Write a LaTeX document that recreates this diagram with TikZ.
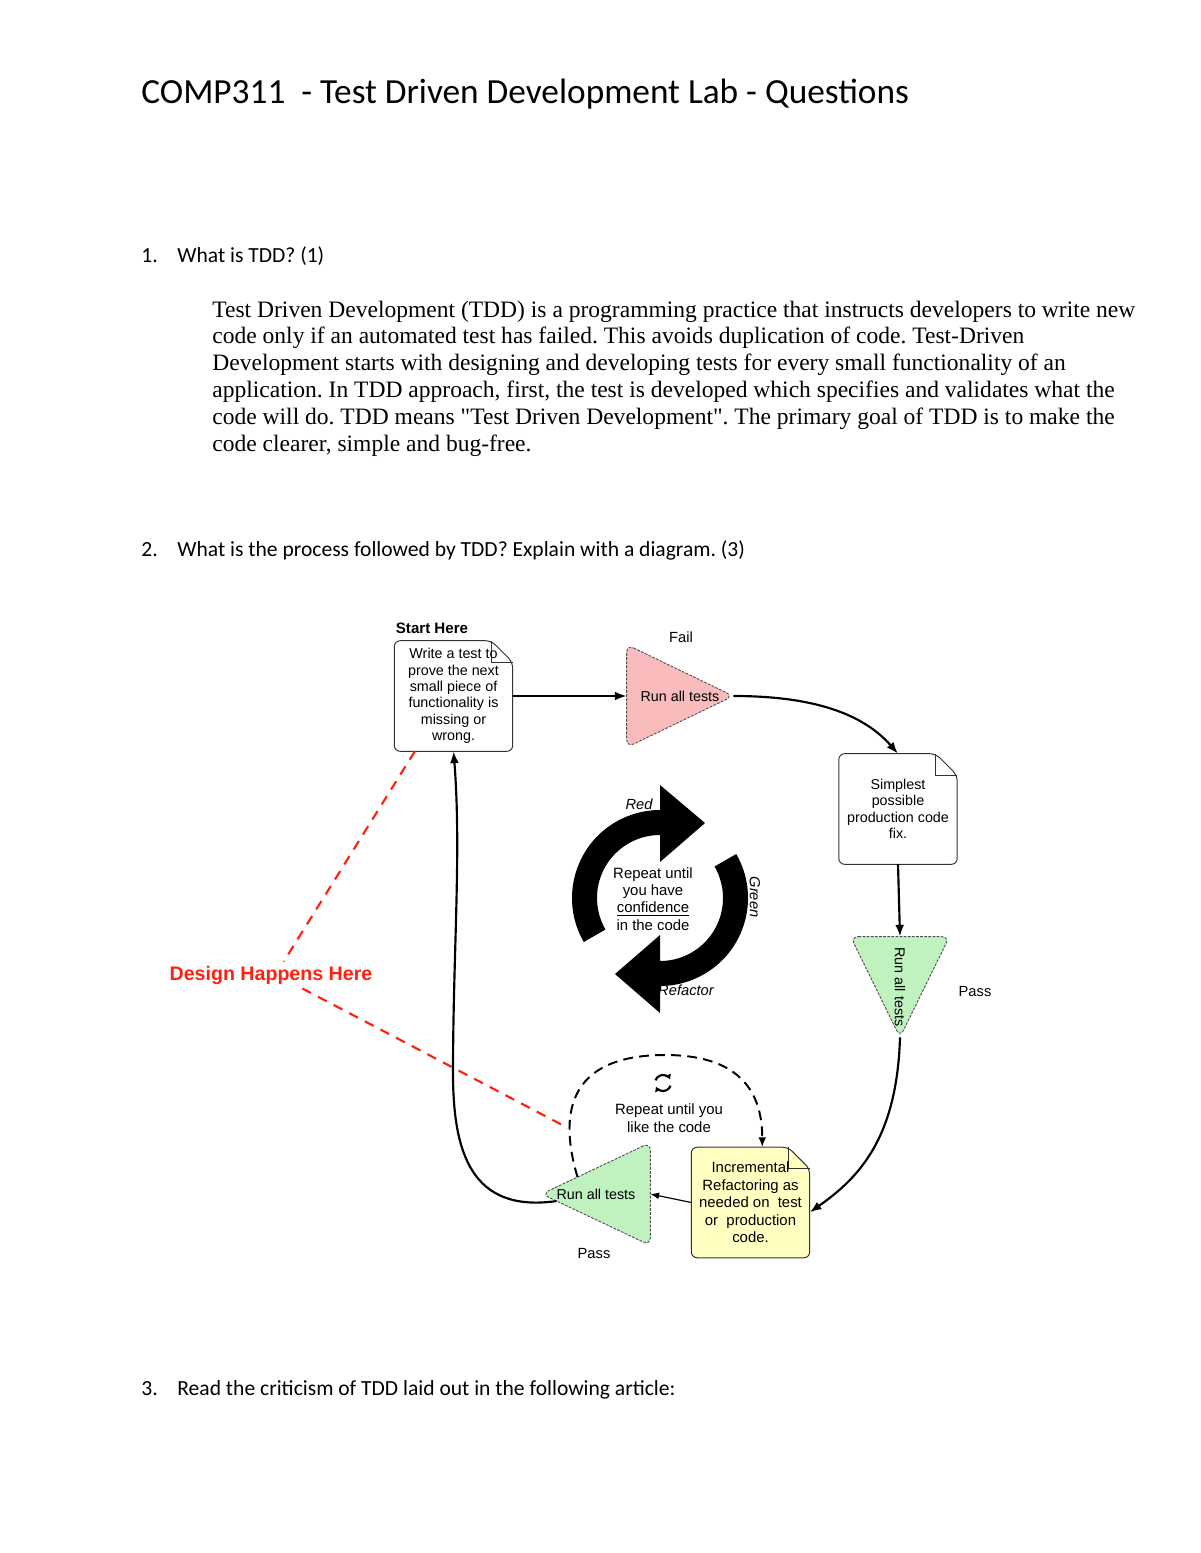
\documentclass[tikz,border=0pt]{standalone}
\usepackage{fontspec}
\setmainfont{Liberation Serif}
\newfontfamily\calibri{Carlito}
\newfontfamily\helv{Liberation Sans}
\usetikzlibrary{arrows.meta,backgrounds,calc}
\definecolor{failpink}{HTML}{F9BBBB}
\definecolor{passgreen}{HTML}{C0F2C0}
\definecolor{refacyellow}{HTML}{FFFFC2}
\definecolor{designred}{HTML}{FF2010}
\frenchspacing
\begin{document}
\begin{tikzpicture}[
      x=0.51pt, y=-0.51pt,
      every node/.style={inner sep=0pt},
      heading/.style={font=\calibri\fontsize{18}{21}\selectfont, anchor=base west},
      question/.style={font=\calibri\fontsize{11}{13}\selectfont, anchor=base west},
      bodyline/.style={font=\fontsize{12}{14}\selectfont, anchor=base west},
      diag/.style={font=\helv\fontsize{7.3}{8.4}\selectfont, align=center},
      docnode/.style={diag, minimum width=60pt, minimum height=56pt},
      doc/.style={draw=black!80, line width=.5pt, rounded corners=3pt, fill=white},
      fold/.style={draw=black!80, line width=.5pt},
      tri/.style={draw=black!70, line width=.45pt, dash pattern=on 1.4pt off .7pt,
                  rounded corners=4pt},
      flow/.style={draw=black, ->, >={Latex[length=6pt,width=4.5pt]}, line width=1.1pt},
      thinflow/.style={draw=black, ->, >={Latex[length=4.5pt,width=3.5pt]}, line width=.6pt},
      loopline/.style={draw=black, ->, >={Latex[length=5pt,width=4pt]},
                       dash pattern=on 5pt off 3.2pt, line width=1pt},
      design/.style={draw=designred, dash pattern=on 5pt off 4pt, line width=1.1pt},
      tag/.style={font=\helv\fontsize{7.5}{9}\selectfont},
      phase/.style={font=\helv\itshape\fontsize{7.5}{9}\selectfont}
    ]
    \useasboundingbox (0,0) rectangle (1200,1553);
    \begin{scope}[on background layer]
      \fill[white] (0,0) rectangle (1200,1553);
    \end{scope}

    % Page text.
    \node[heading] (title) at (141,104) {COMP311\ \ - Test Driven Development Lab - Questions};
    \node[question] (qonenum) at (141,262) {1.};
    \node[question] (qone) at (177,262) {What is TDD? (1)};
    \node[bodyline] (ansa) at (212,317) {Test Driven Development (TDD) is a programming practice that instructs developers to write new};
    \node[bodyline] (ansb) at (212,343.8) {code only if an automated test has failed. This avoids duplication of code. Test-Driven};
    \node[bodyline] (ansc) at (212,370.6) {Development starts with designing and developing tests for every small functionality of an};
    \node[bodyline] (ansd) at (212,397.4) {application. In TDD approach, first, the test is developed which specifies and validates what the};
    \node[bodyline] (anse) at (212,424.2) {code will do. TDD means \textquotedbl Test Driven Development\textquotedbl. The primary goal of TDD is to make the};
    \node[bodyline] (ansf) at (212,451) {code clearer, simple and bug-free.};
    \node[question] (qtwonum) at (141,556) {2.};
    \node[question] (qtwo) at (177,556) {What is the process followed by TDD? Explain with a diagram. (3)};
    \node[question] (qthreenum) at (141,1395) {3.};
    \node[question] (qthree) at (177,1395) {Read the criticism of TDD laid out in the following article:};

    % Main loop.
    \node[docnode] (write) at (453.5,696) {Write a test to\\prove the next\\small piece of\\functionality is\\missing or\\wrong.};
    \node[font=\helv\bfseries\fontsize{7.7}{9}\selectfont] (start) at (432,628) {Start Here};
    \node[diag, minimum width=54pt, minimum height=52pt] (runfail) at (680,696) {Run all tests};
    \node[tag] (fail) at (681,637) {Fail};
    \node[docnode] (simplest) at (898,809) {Simplest\\possible\\production code\\fix.};
    \node[diag, minimum width=51pt, minimum height=50pt, rotate=-90] (rungreen) at (900,987) {Run all tests};
    \node[tag] (passa) at (975,992) {Pass};
    \node[docnode, font=\helv\fontsize{7.6}{8.9}\selectfont] (refactor) at (750.5,1202.5)
      {Incremental\\Refactoring as\\needed on\ \ test\\or\ \ production\\code.};
    \node[diag, minimum width=55pt, minimum height=52pt] (runpass) at (596,1194) {Run all tests};
    \node[tag] (passb) at (594,1253) {Pass};

    \begin{scope}[on background layer]
      \draw[doc] ([xshift=-11pt]write.north east) -- (write.north west) -- (write.south west)
        -- (write.south east) -- ([yshift=-11pt]write.north east) -- cycle;
      \draw[fold] ([xshift=-11pt]write.north east) |- ([yshift=-11pt]write.north east);
      \draw[doc] ([xshift=-11pt]simplest.north east) -- (simplest.north west) -- (simplest.south west)
        -- (simplest.south east) -- ([yshift=-11pt]simplest.north east) -- cycle;
      \draw[fold] ([xshift=-11pt]simplest.north east) |- ([yshift=-11pt]simplest.north east);
      \draw[doc, fill=refacyellow] ([xshift=-11pt]refactor.north east) -- (refactor.north west)
        -- (refactor.south west) -- (refactor.south east) -- ([yshift=-11pt]refactor.north east) -- cycle;
      \draw[fold] ([xshift=-11pt]refactor.north east) |- ([yshift=-11pt]refactor.north east);
      \draw[tri, fill=failpink] (runfail.north west) -- (runfail.east) -- (runfail.south west) -- cycle;
      \draw[tri, fill=passgreen] (rungreen.south west) -- (rungreen.north west) -- (rungreen.east) -- cycle;
      \draw[tri, fill=passgreen] (runpass.north east) -- (runpass.west) -- (runpass.south east) -- cycle;
    \end{scope}

    \draw[flow] (write.east) -- (runfail.west);
    \draw[flow] (runfail.east) .. controls +(80,0) and +(-35,-40) .. (simplest.north);
    \draw[flow] (simplest.south) -- (rungreen.west);
    \draw[flow] (rungreen.east) .. controls +(-3,100) and +(50,-35) .. ([yshift=-5pt]refactor.east);
    \draw[thinflow] (refactor.west) -- (runpass.east);
    \draw[flow] ([xshift=7.6pt,yshift=-3.6pt]runpass.west) .. controls +(-85,12) and +(0,80) .. (453,1073)
      .. controls +(0,-120) and +(8,100) .. (write.south);

    % Inner refactoring loop.
    \draw[loopline] ($(runpass.west)!0.33!(runpass.north east)$) .. controls +(-18,-60) and +(-100,0) .. (665,1055)
      .. controls +(80,0) and +(0,-50) .. ([xshift=6pt]refactor.north);
    \coordinate (meet) at (568,1128);
    \node[diag, font=\helv\fontsize{7.6}{8.9}\selectfont] (likecode) at (669,1118) {Repeat until you\\like the code};
    \coordinate (icon) at (663,1083);
    \draw[line width=1.1pt, -{Latex[length=2.6pt,width=3.4pt]}] (icon) ++(200:8) arc[start angle=200, end angle=335, radius=8];
    \draw[line width=1.1pt, -{Latex[length=2.6pt,width=3.4pt]}] (icon) ++(20:8) arc[start angle=20, end angle=155, radius=8];

    % Design annotation.
    \node[font=\helv\bfseries\fontsize{10}{12}\selectfont, text=designred] (designnote) at (271,975) {Design Happens Here};
    \draw[design] ([xshift=10.5pt]write.south west) -- ([xshift=6.5pt,yshift=2pt]designnote.north);
    \draw[design] ([xshift=16pt,yshift=-2pt]designnote.south) -- (meet);

    % Red / green / refactor cycle.
    \coordinate (cyc) at (660,898);
    \fill (cyc) ++(150:88) arc[start angle=150, end angle=270, radius=88]
      -- ++(0,-25) -- ++(45,38) -- ++(-45,39) -- ++(0,-27)
      arc[start angle=270, end angle=150, radius=63] -- cycle;
    \fill (cyc) ++(-30:88) arc[start angle=-30, end angle=90, radius=88]
      -- ++(0,27) -- ++(-45,-39) -- ++(45,-39) -- ++(0,26)
      arc[start angle=90, end angle=-30, radius=63] -- cycle;
    \node[diag, font=\helv\fontsize{7.6}{8.8}\selectfont] (confid) at (653,899)
      {Repeat until\\you have\\\underline{confidence}\\in the code};
    \node[phase] (red) at (639,804) {Red};
    \node[phase, rotate=-90] (green) at (755,897) {Green};
    \node[phase] (refac) at (686,990) {Refactor};
  \end{tikzpicture}
\end{document}
